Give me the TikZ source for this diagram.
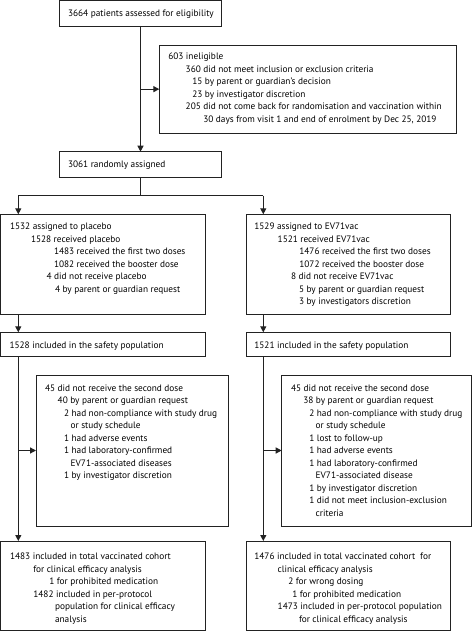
\documentclass[tikz,border=0pt]{standalone}
\usepackage{fontspec}
\setmainfont{PT Sans}
\usetikzlibrary{arrows.meta}
\definecolor{ink}{HTML}{222222}
\tikzset{
  box/.style={draw=ink, line width=0.9pt, inner sep=0pt, outer sep=0pt, anchor=north west},
  txt/.style={anchor=base west, inner sep=0pt, outer sep=0pt, text=black, font=\fontsize{9.3}{12.5}\selectfont},
  conn/.style={draw=ink, line width=1.2pt},
  arr/.style={conn, -{Triangle[width=6pt,length=6pt]}}
}
\newcommand{\ind}[1]{\hspace*{#1pt}}
\begin{document}
\begin{tikzpicture}[x=1pt,y=-1pt]
\useasboundingbox (0,0) rectangle (474,631);
\fill[white] (0,0) rectangle (474,631);
% boxes
\node[box, minimum width=162.4pt, minimum height=25.5pt] (A) at (59.3,0.5) {};
\node[box, minimum width=296.7pt, minimum height=88.3pt] (B) at (159.3,45) {};
\node[box, minimum width=162.4pt, minimum height=25.6pt] (C) at (59.3,151.7) {};
\node[box, minimum width=204.4pt, minimum height=100pt] (P) at (0.6,214.3) {};
\node[box, minimum width=204.7pt, minimum height=100pt] (E) at (246,214.3) {};
\node[box, minimum width=204.4pt, minimum height=24.4pt] (SP) at (0.6,332.3) {};
\node[box, minimum width=204.7pt, minimum height=24.4pt] (SE) at (246,332.3) {};
\node[box, minimum width=192.7pt, minimum height=151pt] (DP) at (36,375) {};
\node[box, minimum width=190pt, minimum height=151pt] (DE) at (281.7,375) {};
\node[box, minimum width=204.4pt, minimum height=89pt] (FP) at (0.6,541) {};
\node[box, minimum width=204.7pt, minimum height=89pt] (FE) at (246,541) {};
% texts
\node[txt] (tA) at (68,16.5) {3664 patients assessed for eligibility};
\node[txt] (tB) at (168.3,60) {\parbox[t]{300pt}{\raggedright
603 ineligible\\
\ind{17.4}360 did not meet inclusion or exclusion criteria\\
\ind{24}15 by parent or guardian’s decision\\
\ind{24}23 by investigator discretion\\
\ind{17.4}205 did not come back for randomisation and vaccination within\\
\ind{35}30 days from visit 1 and end of enrolment by Dec 25, 2019}};
\node[txt] (tC) at (68,167.3) {3061 randomly assigned};
\node[txt] (tP) at (10,229.7) {\parbox[t]{200pt}{\raggedright
1532 assigned to placebo\\
\ind{21}1528 received placebo\\
\ind{44}1483 received the first two doses\\
\ind{44}1082 received the booster dose\\
\ind{36.7}4 did not receive placebo\\
\ind{45}4 by parent or guardian request}};
\node[txt] (tE) at (254.3,229.7) {\parbox[t]{200pt}{\raggedright
1529 assigned to EV71vac\\
\ind{23.4}1521 received EV71vac\\
\ind{45}1476 received the first two doses\\
\ind{45}1072 received the booster dose\\
\ind{36.7}8 did not receive EV71vac\\
\ind{44.7}5 by parent or guardian request\\
\ind{44.7}3 by investigators discretion}};
\node[txt] (tSP) at (9.5,348) {1528 included in the safety population};
\node[txt] (tSE) at (254.3,348) {1521 included in the safety population};
\node[txt] (tDP) at (45,391.3) {\parbox[t]{190pt}{\raggedright
45 did not receive the second dose\\
\ind{12.7}40 by parent or guardian request\\
\ind{19}2 had non-compliance with study drug\\
\ind{25.7}or study schedule\\
\ind{19}1 had adverse events\\
\ind{19}1 had laboratory-confirmed\\
\ind{25.7}EV71-associated diseases\\
\ind{19}1 by investigator discretion}};
\node[txt] (tDE) at (291,391.3) {\parbox[t]{190pt}{\raggedright
45 did not receive the second dose\\
\ind{12.3}38 by parent or guardian request\\
\ind{18.3}2 had non-compliance with study drug\\
\ind{24.7}or study schedule\\
\ind{18.3}1 lost to follow-up\\
\ind{18.3}1 had adverse events\\
\ind{18.3}1 had laboratory-confirmed\\
\ind{24.7}EV71-associated disease\\
\ind{18.3}1 by investigator discretion\\
\ind{18.3}1 did not meet inclusion-exclusion\\
\ind{24.7}criteria}};
\node[txt] (tFP) at (10,559.5) {\parbox[t]{200pt}{\raggedright
1483 included in total vaccinated cohort\\
\ind{23.3}for clinical efficacy analysis\\
\ind{39.3}1 for prohibited medication\\
\ind{23.3}1482 included in per-protocol\\
\ind{45}population for clinical efficacy\\
\ind{45}analysis}};
\node[txt] (tFE) at (254.3,559.5) {\parbox[t]{200pt}{\raggedright
1476 included in total vaccinated cohort~ for\\
\ind{23.4}clinical efficacy analysis\\
\ind{34}2 for wrong dosing\\
\ind{38}1 for prohibited medication\\
\ind{23.4}1473 included in per-protocol population\\
\ind{44.7}for clinical efficacy analysis}};
% connectors
\draw[arr] (A.south) -- (C.north);
\draw[arr] (A.south |- B.west) -- (B.west);
\coordinate (pl) at (18.3,195.7);
\coordinate (pr) at (263.3,195.7);
\draw[conn] (C.south) -- (C.south |- pl);
\draw[conn] (pl) -- (pr);
\draw[arr] (pl) -- (pl |- P.north);
\draw[arr] (pr) -- (pr |- E.north);
\draw[arr] (pl |- P.south) -- (pl |- SP.north);
\draw[arr] (pr |- E.south) -- (pr |- SE.north);
\draw[arr] (pl |- SP.south) -- (pl |- FP.north);
\draw[arr] (pr |- SE.south) -- (pr |- FE.north);
\draw[arr] (pl |- DP.west) -- (DP.west);
\draw[arr] (pr |- DE.west) -- (DE.west);
\end{tikzpicture}
\end{document}
